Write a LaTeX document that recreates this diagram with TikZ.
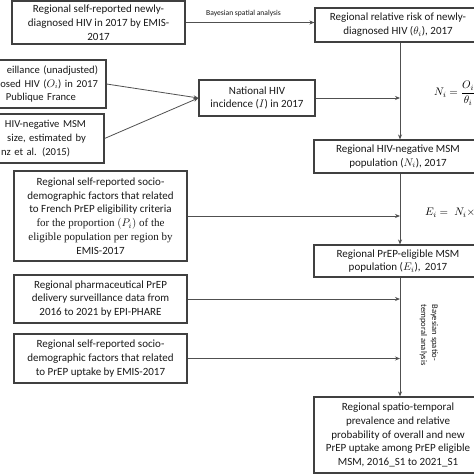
\documentclass[tikz,border=0pt]{standalone}
\usepackage{fontspec}
\setmainfont{Carlito}
\newfontfamily\timespart{Liberation Serif}
\usetikzlibrary{arrows.meta}
\definecolor{framegray}{HTML}{404040}
\definecolor{linkgray}{HTML}{505050}
\tikzset{
  flowbox/.style={draw=framegray, line width=1.1pt, align=center, inner sep=0pt,
    font=\fontsize{11}{13.8}\selectfont, text=black!90},
  cutbox/.style={flowbox, align=right, font=\fontsize{10.6}{13.8}\selectfont},
  link/.style={draw=linkgray, line width=0.8pt, ->},
  linklabel/.style={font=\fontsize{7.6}{9}\selectfont, text=black!90},
  formula/.style={font=\fontsize{11}{13}\selectfont, anchor=west, inner sep=0pt}
}
\begin{document}
\begin{tikzpicture}[x=1pt, y=-1pt, >={Stealth[length=5pt,width=4pt]}]
  \useasboundingbox (0,0) rectangle (474,474);
  \clip (0,0) rectangle (474,474);
  \fill[white] (0,0) rectangle (474,474);
  \coordinate (spine) at (400,0);

  % left column
  \node[flowbox, minimum width=173pt, minimum height=43pt] (emisnew) at (98.5,22.5)
    {Regional self-reported newly-\\diagnosed HIV in 2017 by EMIS-\\2017};
  \node[cutbox, minimum width=186pt, minimum height=48pt, text width=170pt, inner xsep=8pt] (surv) at (13,84)
    {eillance (unadjusted)\hspace*{1pt}\\osed HIV ($O_i$) in 2017\\Publique France\hspace*{22pt}};
  \node[cutbox, minimum width=184pt, minimum height=49pt, text width=148pt, inner xsep=18pt] (msmsize) at (12,138.5)
    {HIV-negative MSM\hspace*{3pt}\\size, estimated by\\nz et al. (2015)\hspace*{16pt}};
  \node[flowbox, minimum width=173pt, minimum height=90pt] (eligfactors) at (100.5,216)
    {Regional self-reported socio-\\demographic factors that related\\to French PrEP eligibility criteria\\
     {\timespart for the proportion $(P_i)$ of the}\\{\timespart eligible population per region by}\\EMIS-2017};
  \node[flowbox, minimum width=173pt, minimum height=48pt] (pharma) at (100.5,299)
    {Regional pharmaceutical PrEP\\delivery surveillance data from\\2016 to 2021 by EPI-PHARE};
  \node[flowbox, minimum width=173pt, minimum height=49pt] (uptakefactors) at (100.5,358.5)
    {Regional self-reported socio-\\demographic factors that related\\to PrEP uptake by EMIS-2017};

  % middle
  \node[flowbox, minimum width=116pt, minimum height=36pt] (national) at (257,98)
    {National HIV\\incidence ($I$) in 2017};

  % right column
  \node[flowbox, minimum width=166pt, minimum height=34pt] (risk) at (398,25)
    {Regional relative risk of newly-\\diagnosed HIV ($\theta_i$), 2017};
  \node[flowbox, minimum width=168pt, minimum height=33pt] (hivneg) at (398,156.5)
    {Regional HIV-negative MSM\\population ($N_i$), 2017};
  \node[flowbox, minimum width=168pt, minimum height=32pt] (eligible) at (398,261)
    {Regional PrEP-eligible MSM\\population ($E_i$),\, 2017};
  \node[flowbox, minimum width=168pt, minimum height=76pt] (result) at (398,435)
    {Regional spatio-temporal\\prevalence and relative\\probability of overall and new\\PrEP uptake among PrEP eligible\\MSM, 2016\_S1 to 2021\_S1};

  % formulas
  \node[formula] (nformula) at (434,93) {$N_i=\displaystyle\frac{O_i}{\theta_i}$};
  \node[formula] (eformula) at (425,213) {$E_i=\;N_i\times$};

  % connectors
  \draw[link] (emisnew.east) -- (emisnew.east -| risk.west)
    node[linklabel, pos=0.45, above=2pt] {Bayesian spatial analysis};
  \draw[link] (surv.east) -- (national.west);
  \draw[link] (msmsize.east) -- (national.west);
  \draw[link] (national.east) -- (national.east -| spine);
  \draw[link] (risk.south -| spine) -- (hivneg.north -| spine);
  \draw[link] (eligfactors.east) -- (eligfactors.east -| spine);
  \draw[link] (hivneg.south -| spine) -- (eligible.north -| spine);
  \draw[link] (pharma.east) -- (pharma.east -| spine);
  \draw[link] (uptakefactors.east) -- (uptakefactors.east -| spine);
  \draw[link] (eligible.south -| spine) -- (result.north -| spine);
  \node[linklabel, font=\fontsize{8.6}{11}\selectfont, rotate=-90, align=left] (stlabel) at (429,335)
    {Bayesian spatio-\\temporal analysis};
\end{tikzpicture}
\end{document}
